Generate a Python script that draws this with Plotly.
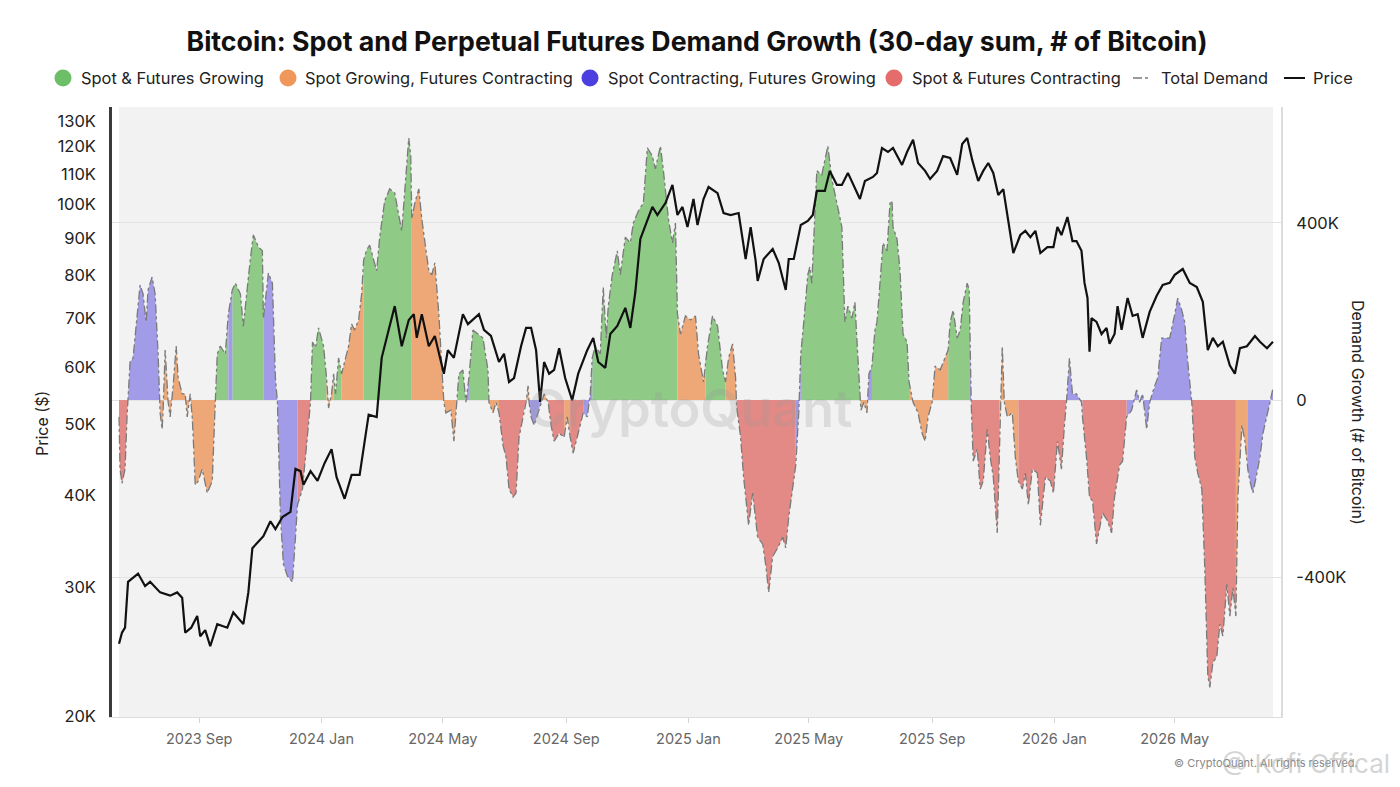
import plotly.graph_objects as go

# 价格（千美元）
price_dates = [
    "2023-06-13", "2023-06-16", "2023-06-19", "2023-06-22", "2023-07-02", "2023-07-09", "2023-07-14",
    "2023-07-24", "2023-08-03", "2023-08-10", "2023-08-15", "2023-08-18", "2023-08-24", "2023-08-30",
    "2023-09-02", "2023-09-07", "2023-09-12", "2023-09-19", "2023-09-29", "2023-10-05", "2023-10-15",
    "2023-10-20", "2023-10-24", "2023-11-04", "2023-11-11", "2023-11-16", "2023-11-23", "2023-12-01",
    "2023-12-06", "2023-12-11", "2023-12-14", "2023-12-21", "2023-12-28", "2024-01-04", "2024-01-11",
    "2024-01-16", "2024-01-24", "2024-01-31", "2024-02-08", "2024-02-13", "2024-02-17", "2024-02-25",
    "2024-03-01", "2024-03-08", "2024-03-14", "2024-03-21", "2024-03-28", "2024-04-02", "2024-04-05",
    "2024-04-10", "2024-04-17", "2024-04-23", "2024-04-28", "2024-05-02", "2024-05-06", "2024-05-12",
    "2024-05-21", "2024-05-26", "2024-06-06", "2024-06-11", "2024-06-18", "2024-06-21", "2024-06-26",
    "2024-07-01", "2024-07-06", "2024-07-11", "2024-07-18", "2024-07-23", "2024-07-28", "2024-08-02",
    "2024-08-06", "2024-08-10", "2024-08-15", "2024-08-20", "2024-08-25", "2024-08-31", "2024-09-07",
    "2024-09-13", "2024-09-22", "2024-09-28", "2024-10-03", "2024-10-10", "2024-10-15", "2024-10-22",
    "2024-10-30", "2024-11-04", "2024-11-09", "2024-11-14", "2024-11-21", "2024-11-26", "2024-12-01",
    "2024-12-09", "2024-12-16", "2024-12-21", "2024-12-26", "2024-12-31", "2025-01-06", "2025-01-10",
    "2025-01-16", "2025-01-21", "2025-01-30", "2025-02-05", "2025-02-12", "2025-02-20", "2025-02-27",
    "2025-03-04", "2025-03-09", "2025-03-11", "2025-03-17", "2025-03-26", "2025-04-01", "2025-04-08",
    "2025-04-11", "2025-04-16", "2025-04-23", "2025-04-30", "2025-05-05", "2025-05-09", "2025-05-17",
    "2025-05-22", "2025-05-29", "2025-06-03", "2025-06-09", "2025-06-16", "2025-06-21", "2025-06-26",
    "2025-07-04", "2025-07-08", "2025-07-13", "2025-07-19", "2025-07-24", "2025-08-02", "2025-08-07",
    "2025-08-13", "2025-08-18", "2025-08-25", "2025-08-30", "2025-09-06", "2025-09-12", "2025-09-19",
    "2025-09-26", "2025-10-01", "2025-10-06", "2025-10-11", "2025-10-17", "2025-10-22", "2025-10-27",
    "2025-11-01", "2025-11-06", "2025-11-11", "2025-11-16", "2025-11-21", "2025-11-28", "2025-12-03",
    "2025-12-08", "2025-12-13", "2025-12-18", "2025-12-25", "2025-12-31", "2026-01-04", "2026-01-08",
    "2026-01-14", "2026-01-19", "2026-01-23", "2026-01-28", "2026-01-31", "2026-02-03", "2026-02-05",
    "2026-02-07", "2026-02-12", "2026-02-17", "2026-02-22", "2026-02-25", "2026-03-02", "2026-03-05",
    "2026-03-09", "2026-03-15", "2026-03-20", "2026-03-25", "2026-03-30", "2026-04-06", "2026-04-13",
    "2026-04-19", "2026-04-26", "2026-05-01", "2026-05-06", "2026-05-09", "2026-05-16", "2026-05-23",
    "2026-05-29", "2026-06-03", "2026-06-08", "2026-06-13", "2026-06-18", "2026-06-25", "2026-06-30",
    "2026-07-05", "2026-07-12", "2026-07-20", "2026-07-25", "2026-08-01", "2026-08-07",
]
price_k = [
    25.1, 26.0, 26.4, 30.5, 31.3, 30.1, 30.5,
    29.5, 29.2, 29.5, 29.0, 26.0, 26.4, 27.4,
    25.7, 26.2, 24.9, 26.7, 26.4, 27.7, 26.7,
    29.5, 33.9, 35.2, 36.9, 36.0, 37.4, 38.0,
    43.5, 43.2, 41.4, 43.2, 41.9, 44.3, 46.3,
    42.4, 39.6, 42.7, 42.7, 47.8, 51.6, 51.2,
    61.7, 67.4, 72.6, 64.0, 69.5, 70.8, 65.7,
    70.8, 64.0, 66.1, 61.7, 58.7, 63.2, 61.7,
    70.8, 68.6, 70.8, 67.4, 66.1, 64.0, 60.9,
    62.5, 57.2, 57.9, 64.0, 67.8, 67.8, 63.2,
    53.7, 60.9, 58.7, 59.4, 63.6, 57.9, 54.0,
    58.7, 63.2, 65.7, 60.9, 59.8, 66.5, 68.2,
    72.2, 67.8, 75.9, 89.7, 95.5, 99.2, 96.7,
    100.4, 106.3, 96.7, 99.2, 93.1, 101.7, 93.7,
    101.7, 105.6, 103.6, 97.3, 96.7, 97.3, 84.2,
    93.1, 83.7, 78.6, 84.2, 86.9, 83.2, 76.4,
    84.2, 84.2, 93.7, 94.9, 96.7, 104.3, 104.3,
    111.1, 106.3, 106.3, 110.4, 104.9, 101.7, 107.6,
    109.0, 110.4, 119.4, 117.9, 119.4, 113.2, 117.9,
    122.5, 113.9, 111.1, 108.3, 111.1, 116.4, 115.7,
    109.7, 120.9, 123.2, 115.0, 107.6, 111.1, 113.9,
    110.4, 103.0, 104.9, 94.9, 85.8, 90.8, 92.0,
    90.2, 92.0, 85.8, 87.4, 87.4, 93.1, 90.8,
    96.1, 89.1, 89.1, 86.4, 78.1, 74.5, 62.9,
    69.9, 69.1, 66.5, 67.8, 64.5, 66.5, 72.6,
    67.4, 74.5, 70.4, 70.8, 65.7, 71.3, 75.0,
    77.6, 78.1, 80.1, 81.1, 81.6, 78.1, 77.1,
    73.6, 63.2, 65.7, 64.0, 64.9, 60.2, 58.7,
    63.6, 64.0, 66.1, 64.9, 63.6, 64.9,
]

# 需求增长（30日合计，千枚比特币）
demand_dates = [
    "2023-06-13", "2023-06-14", "2023-06-16", "2023-06-19", "2023-06-21", "2023-06-22", "2023-06-24", "2023-06-27",
    "2023-07-01", "2023-07-04", "2023-07-07", "2023-07-10", "2023-07-12", "2023-07-16", "2023-07-19", "2023-07-22",
    "2023-07-24", "2023-07-26", "2023-07-27", "2023-07-29", "2023-08-01", "2023-08-03", "2023-08-06", "2023-08-09",
    "2023-08-11", "2023-08-15", "2023-08-18", "2023-08-20", "2023-08-23", "2023-08-25", "2023-08-26", "2023-08-28",
    "2023-08-31", "2023-09-04", "2023-09-09", "2023-09-14",
    "2023-09-17", "2023-09-19", "2023-09-22", "2023-09-27", "2023-09-30", "2023-10-04", "2023-10-07", "2023-10-12",
    "2023-10-15", "2023-10-19", "2023-10-22", "2023-10-25", "2023-10-30", "2023-11-03",
    "2023-11-04", "2023-11-09", "2023-11-13", "2023-11-16", "2023-11-18", "2023-11-21", "2023-11-24", "2023-11-28",
    "2023-12-03", "2023-12-06", "2023-12-08", "2023-12-13", "2023-12-18",
    "2023-12-21", "2023-12-23", "2023-12-26", "2023-12-29", "2024-01-03", "2024-01-06", "2024-01-08", "2024-01-11",
    "2024-01-13", "2024-01-15", "2024-01-18", "2024-01-21", "2024-01-24", "2024-01-28", "2024-01-31", "2024-02-03",
    "2024-02-07", "2024-02-10",
    "2024-02-12", "2024-02-15", "2024-02-18", "2024-02-22", "2024-02-25", "2024-02-28", "2024-03-04", "2024-03-09",
    "2024-03-14", "2024-03-18", "2024-03-21", "2024-03-24", "2024-03-28", "2024-03-30",
    "2024-03-31", "2024-04-03", "2024-04-07", "2024-04-10", "2024-04-13", "2024-04-17", "2024-04-20", "2024-04-23",
    "2024-04-27", "2024-04-30", "2024-05-02", "2024-05-04", "2024-05-09", "2024-05-12",
    "2024-05-15", "2024-05-17", "2024-05-21", "2024-05-24", "2024-05-27", "2024-05-31", "2024-06-05", "2024-06-10",
    "2024-06-15", "2024-06-16", "2024-06-20", "2024-06-23",
    "2024-06-26", "2024-06-30", "2024-07-03", "2024-07-06", "2024-07-10", "2024-07-13", "2024-07-16", "2024-07-20",
    "2024-07-23", "2024-07-25", "2024-07-26", "2024-07-28", "2024-07-31", "2024-08-04", "2024-08-07", "2024-08-10",
    "2024-08-14", "2024-08-17", "2024-08-20", "2024-08-25", "2024-08-30", "2024-09-02", "2024-09-05", "2024-09-08",
    "2024-09-12", "2024-09-15", "2024-09-18", "2024-09-22", "2024-09-25",
    "2024-09-27", "2024-09-30", "2024-10-05", "2024-10-08", "2024-10-11", "2024-10-13", "2024-10-17", "2024-10-22",
    "2024-10-25", "2024-10-30", "2024-11-04", "2024-11-07", "2024-11-12", "2024-11-17", "2024-11-21", "2024-11-26",
    "2024-11-29", "2024-12-04", "2024-12-07", "2024-12-12", "2024-12-16", "2024-12-19",
    "2024-12-21", "2024-12-24", "2024-12-29", "2025-01-03", "2025-01-08", "2025-01-11", "2025-01-16", "2025-01-18",
    "2025-01-20", "2025-01-25", "2025-01-30", "2025-02-04", "2025-02-07", "2025-02-10", "2025-02-14", "2025-02-17",
    "2025-02-18", "2025-02-22", "2025-02-25", "2025-03-02", "2025-03-06", "2025-03-11", "2025-03-16", "2025-03-19",
    "2025-03-22", "2025-03-26", "2025-03-31", "2025-04-05", "2025-04-08", "2025-04-11", "2025-04-15", "2025-04-18",
    "2025-04-21",
    "2025-04-23", "2025-04-26", "2025-04-30", "2025-05-02", "2025-05-04", "2025-05-09", "2025-05-14", "2025-05-20",
    "2025-05-24", "2025-05-29", "2025-06-03", "2025-06-06", "2025-06-09", "2025-06-13", "2025-06-16", "2025-06-19",
    "2025-06-22", "2025-06-25", "2025-06-28", "2025-06-30",
    "2025-07-03", "2025-07-06", "2025-07-08", "2025-07-11", "2025-07-14", "2025-07-18", "2025-07-21", "2025-07-23",
    "2025-07-24", "2025-07-28", "2025-07-31", "2025-08-03", "2025-08-07",
    "2025-08-09", "2025-08-13", "2025-08-18", "2025-08-22", "2025-08-25", "2025-08-28", "2025-09-01", "2025-09-04",
    "2025-09-09", "2025-09-14",
    "2025-09-17", "2025-09-19", "2025-09-22", "2025-09-26", "2025-09-29", "2025-10-02", "2025-10-06", "2025-10-08",
    "2025-10-10", "2025-10-12", "2025-10-16", "2025-10-19", "2025-10-22", "2025-10-26", "2025-10-29", "2025-11-01",
    "2025-11-05", "2025-11-07", "2025-11-10", "2025-11-12", "2025-11-15", "2025-11-20", "2025-11-23",
    "2025-11-26", "2025-11-30", "2025-12-03", "2025-12-06", "2025-12-10", "2025-12-15", "2025-12-18", "2025-12-23",
    "2025-12-28", "2025-12-31", "2026-01-04", "2026-01-08", "2026-01-11",
    "2026-01-13", "2026-01-16", "2026-01-19", "2026-01-23", "2026-01-28",
    "2026-01-29", "2026-02-02", "2026-02-05", "2026-02-08", "2026-02-12", "2026-02-15", "2026-02-18", "2026-02-23",
    "2026-02-27", "2026-03-02", "2026-03-07", "2026-03-10",
    "2026-03-14", "2026-03-19", "2026-03-24", "2026-03-27", "2026-03-30", "2026-04-03", "2026-04-06", "2026-04-11",
    "2026-04-14", "2026-04-18", "2026-04-21", "2026-04-26", "2026-05-01", "2026-05-04", "2026-05-08", "2026-05-11",
    "2026-05-14",
    "2026-05-18", "2026-05-21", "2026-05-24", "2026-05-28", "2026-05-31", "2026-06-03", "2026-06-05", "2026-06-08",
    "2026-06-12", "2026-06-15", "2026-06-18", "2026-06-22", "2026-06-25", "2026-06-28",
    "2026-07-01", "2026-07-03", "2026-07-07", "2026-07-10", "2026-07-13", "2026-07-15", "2026-07-18", "2026-07-22",
    "2026-07-25", "2026-07-28", "2026-08-01", "2026-08-04", "2026-08-07",
]
demand_k = [
    -38, -156, -188, -156, -38, -5, 86, 95,
    194, 260, 240, 176, 249, 278, 240, 104,
    -29, -66, -23, 113, -5, -38, 32, 122,
    50, 14, 14, -38, 14, -38, -84, -192,
    -183, -156, -210, -183,
    -5, 104, 122, 104, 194, 249, 264, 240,
    167, 260, 319, 373, 346, 337,
    185, 287, 264, 50, -5, -264, -371, -398,
    -411, -310, -237, -201, -84,
    -5, 131, 118, 163, 122, 50, -18, 14,
    59, 14, 95, 59, 86, 122, 172, 158,
    181, 240,
    316, 339, 350, 319, 292, 368, 450, 477,
    468, 418, 382, 472, 592, 551,
    409, 445, 477, 409, 355, 292, 283, 310,
    194, 68, -5, -29, -23, -93,
    -5, 59, 68, -5, 50, 158, 149, 140,
    68, -5, -29, -5,
    -29, -102, -129, -201, -219, -210, -84, -38,
    -5, 32, -5, -38, -57, -29, -5, 14,
    -5, -57, -93, -75, -84, -38, -84, -120,
    -84, -57, -29, -38, 14,
    95, 122, 104, 255, 140, 212, 283, 337,
    283, 368, 355, 400, 427, 445, 570, 551,
    522, 574, 518, 409, 355, 400,
    194, 149, 190, 181, 190, 104, 41, 90,
    122, 190, 167, 68, 41, 95, 127, 50,
    -14, -84, -174, -283, -210, -310, -325, -371,
    -434, -353, -334, -310, -334, -264, -201, -147,
    -29,
    104, 176, 283, 301, 264, 518, 509, 574,
    499, 445, 391, 176, 212, 185, 221, 95,
    -23, -5, -29, 59,
    77, 158, 176, 264, 355, 337, 445, 450,
    391, 364, 292, 149, 131,
    41, -5, -29, -75, -93, -38, -5, 77,
    68, 95,
    113, 176, 203, 140, 158, 221, 264, 249,
    -5, -138, -111, -201, -183, -66, -129, -174,
    -300, -129, 122, -5, -38, -29, -129,
    -183, -201, -165, -237, -156, -165, -283, -174,
    -183, -210, -93, -156, -57,
    -5, 95, 14, 14, -5,
    -38, -129, -219, -228, -325, -292, -255, -273,
    -300, -219, -147, -138,
    -38, -23, 23, -5, 14, -66, -5, 32,
    50, 140, 140, 140, 194, 230, 203, 176,
    86,
    -5, -129, -165, -201, -380, -622, -649, -594,
    -579, -506, -533, -416, -488, -425,
    -488, -219, -57, -93, -158, -183, -210, -165,
    -129, -75, -38, -5, 27,
]
# G: 现货和期货都增长, O: 现货增长期货收缩, P: 现货收缩期货增长, R: 都收缩
regime = list(
    "RRRRPPPP" "PPPPPPPP"
    "OOOOOOOO" "OOOOOOOO" "OOOO"
    "GGGGPGGG" "GGGGGG"
    "PPPPPPPP" "PPRRR"
    "GGGGGOOO" "GGGOOOOO" "OO"
    "GGGGGGGG" "GGGGGG"
    "OOOOOOOO" "OOOOOO"
    "GGGPGGGG" "GOOO"
    "RRRRRRRR" "OOPPPPOO" "RRRROORR" "RRPPP"
    "GGGGGGGG" "GGGGGGGG" "GGGGGG"
    "OOOOOOOG" "GGGGOOOO"
    "RRRRRRRR" "RRRRRRRP" "P"
    "GGGGGGGG" "GGGGGGGG"
    "OOPP"
    "GGGGGGGG" "GGGGG"
    "OOOOOOOO" "OO"
    "GGGGGGGP"
    "RRRRRRRR" "ROOOOOO"
    "RRRRRRRR" "RRRRR"
    "PPPPP"
    "RRRRRRRR" "RRRR"
    "PPPPPPPP" "PPPPPPPP" "P"
    "RRRRRRRR" "RRRRRR"
    "OOOOPPPP" "PPPPP"
)
assert len(demand_dates) == len(demand_k) == len(regime)
assert len(price_dates) == len(price_k)

regime_order = ["G", "O", "P", "R"]
regime_names = {
    "G": "Spot & Futures Growing",
    "O": "Spot Growing, Futures Contracting",
    "P": "Spot Contracting, Futures Growing",
    "R": "Spot & Futures Contracting",
}
fill_colors = {"G": "#8fca87", "O": "#eea877", "P": "#a29be8", "R": "#e38a86"}
marker_colors = {"G": "#6cbf66", "O": "#f0985c", "P": "#4c3fe0", "R": "#e46c6a"}

demand = [v * 1000 for v in demand_k]
price = [v * 1000 for v in price_k]
n = len(demand)


# 屏幕像素 -> paper 坐标（绘图区在屏幕 112..1281 × 107..717）
def px_x(p):
    return (p - 112) / 1169


def px_y(p):
    return (717 - p) / 610


fig = go.Figure()

# 按状态分段：每段做成一个闭合多边形（到零轴），段之间用 None 断开
for code in regime_order:
    xs, ys = [], []
    i = 0
    while i < n:
        if regime[i] != code:
            i += 1
            continue
        j = i
        while j + 1 < n and regime[j + 1] == code:
            j += 1
        end = min(j + 1, n - 1)
        seg_x = demand_dates[i:end + 1]
        seg_y = demand[i:end + 1]
        xs += seg_x + seg_x[::-1] + [None]
        ys += seg_y + [0] * len(seg_x) + [None]
        i = j + 1
    fig.add_trace(go.Scatter(
        x=xs, y=ys, mode="lines", line=dict(width=0, color=fill_colors[code]),
        fill="toself", fillcolor=fill_colors[code], name=regime_names[code],
        showlegend=False, hoverinfo="skip", yaxis="y",
    ))

fig.add_trace(go.Scatter(
    x=demand_dates, y=demand, mode="lines", name="Total Demand", showlegend=False,
    line=dict(color="#7a7a7a", width=1.3, dash="dashdot"), yaxis="y",
))

fig.add_trace(go.Scatter(
    x=price_dates, y=price, mode="lines", name="Price", showlegend=False,
    line=dict(color="#111111", width=2.2), yaxis="y2",
))

fig.add_shape(
    type="rect", xref="x", yref="paper", x0=demand_dates[0], x1=demand_dates[-1], y0=0, y1=1,
    fillcolor="#f2f2f2", line=dict(width=0), layer="below",
)

# 手工图例（一行）
legend_y = px_y(78)
legend_font = dict(size=16.4, color="#222")
circle_x = [63, 288, 590, 894]
text_x = [79, 303, 606, 910]
for code, cx, tx in zip(regime_order, circle_x, text_x):
    fig.add_shape(type="circle", xref="paper", yref="paper", xsizemode="pixel", ysizemode="pixel",
                  xanchor=px_x(cx), yanchor=legend_y, x0=-8.5, x1=8.5, y0=-8.5, y1=8.5,
                  fillcolor=marker_colors[code], line=dict(width=0))
    fig.add_annotation(text=regime_names[code], xref="paper", yref="paper", x=px_x(tx), y=legend_y,
                       xanchor="left", yanchor="middle", showarrow=False, font=legend_font)
fig.add_shape(type="line", xref="paper", yref="paper", x0=px_x(1133), x1=px_x(1151), y0=legend_y, y1=legend_y,
              line=dict(color="#7a7a7a", width=1.5, dash="dashdot"))
fig.add_annotation(text="Total Demand", xref="paper", yref="paper", x=px_x(1159), y=legend_y,
                   xanchor="left", yanchor="middle", showarrow=False, font=legend_font)
fig.add_shape(type="line", xref="paper", yref="paper", x0=px_x(1284), x1=px_x(1305), y0=legend_y, y1=legend_y,
              line=dict(color="#111", width=2))
fig.add_annotation(text="Price", xref="paper", yref="paper", x=px_x(1311), y=legend_y,
                   xanchor="left", yanchor="middle", showarrow=False, font=legend_font)

price_ticks = [20, 30, 40, 50, 60, 70, 80, 90, 100, 110, 120, 130]

# 页面 body 有 8px 边距，所以图本身缩小 8px
fig.update_layout(
    width=1392, height=779,
    margin=dict(l=104, r=119, t=99, b=70),
    paper_bgcolor="white", plot_bgcolor="white",
    font=dict(family="Inter, Roboto, sans-serif", size=16, color="#222"),
    showlegend=False,
    title=dict(
        text="Bitcoin: Spot and Perpetual Futures Demand Growth (30-day sum, # of Bitcoin)",
        x=689 / 1392, xanchor="center", y=1 - 34 / 779, yref="container", yanchor="middle",
        font=dict(size=26.7, color="#111", weight=700),
    ),
    xaxis=dict(
        type="date", range=["2023-06-06", "2026-08-15"],
        dtick="M4", tick0="2023-09-01", tickformat="%Y %b",
        showgrid=False, zeroline=False, showline=True, linecolor="#dddddd", linewidth=1,
        ticks="outside", ticklen=5, tickcolor="#d5d5d5", ticklabelstandoff=4,
        tickfont=dict(size=14.5, color="#666"),
    ),
    yaxis=dict(
        side="right", range=[-716000, 662000],
        tickvals=[-400000, 0, 400000], ticktext=["-400K", "0", "400K"],
        showgrid=True, gridcolor="#e3e3e3", gridwidth=1, zeroline=False,
        showline=True, linecolor="#dcdcdc", linewidth=2, ticks="", ticklabelstandoff=10,
        tickfont=dict(size=16.5, color="#222"),
    ),
    yaxis2=dict(
        overlaying="y", side="left", type="log", range=[4.2996, 5.133],
        tickvals=[v * 1000 for v in price_ticks], ticktext=[f"{v}K" for v in price_ticks],
        showgrid=False, zeroline=False, showline=True, linecolor="#3a3a3a", linewidth=2.5,
        ticks="", ticklabelstandoff=10, tickfont=dict(size=16.5, color="#222"),
    ),
)

fig.add_annotation(text="Price ($)", xref="paper", yref="paper", x=px_x(42), y=px_y(424),
                   xanchor="center", yanchor="middle",
                   textangle=-90, showarrow=False, font=dict(size=16, color="#222"))
fig.add_annotation(text="Demand Growth (# of Bitcoin)", xref="paper", yref="paper", x=px_x(1358), y=px_y(412),
                   xanchor="center", yanchor="middle",
                   textangle=90, showarrow=False, font=dict(size=16, color="#222"))
fig.add_annotation(text="CryptoQuant", xref="paper", yref="paper", x=px_x(690), y=px_y(408),
                   showarrow=False, font=dict(size=52, color="rgba(150,150,150,0.25)", weight=600))
fig.add_annotation(text="© CryptoQuant. All rights reserved.", xref="paper", yref="paper",
                   x=px_x(1360), y=px_y(763), xanchor="right", yanchor="middle",
                   showarrow=False, font=dict(size=11, color="#888"))
fig.add_annotation(text="@ Kofi Offical", xref="paper", yref="paper", x=px_x(1392), y=px_y(763),
                   xanchor="right", yanchor="middle",
                   showarrow=False, font=dict(size=26, color="rgba(170,170,170,0.5)"))

fig.write_html("out.html")
